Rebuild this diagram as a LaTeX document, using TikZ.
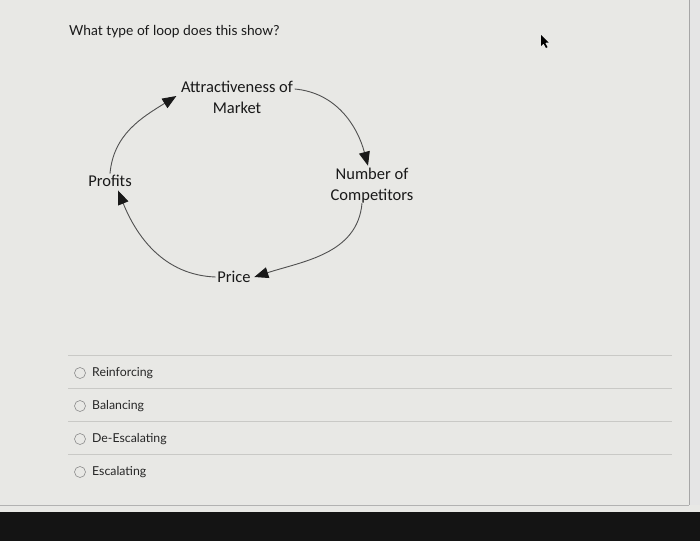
\documentclass[tikz,border=0pt]{standalone}
\usepackage{fontspec}
\setmainfont{Carlito}
\newfontfamily\uifont{Lato}
\usetikzlibrary{arrows.meta}
\definecolor{bg}{HTML}{E8E8E5}
\definecolor{sep}{HTML}{C9C9C6}
\definecolor{loopline}{HTML}{505050}
\tikzset{
  lbl/.style={font=\fontsize{16.5}{21}\selectfont, text=black!90, inner sep=1.5pt, align=center},
  loopedge/.style={draw=loopline, line width=0.9pt, -{Triangle[length=14pt,width=11pt,color=black!90]}},
  sepline/.style={draw=sep, line width=0.8pt},
  radio/.style={draw=black!45, line width=0.6pt, circle, minimum size=11pt, inner sep=0pt},
  opt/.style={font=\uifont\fontsize{12.3}{14}\selectfont, text=black!85, anchor=west, inner sep=0pt},
}
\begin{document}
\begin{tikzpicture}[x=1pt,y=1pt]
\useasboundingbox (0,0) rectangle (700,-541);
\fill[bg] (0,0) rectangle (700,-541);
% right panel edge
\draw[black!35, line width=0.8pt] (689,0) -- (689,-505);
\fill[black!10] (690,0) rectangle (700,-505);
% panel bottom and dark band
\draw[black!30, line width=0.8pt] (0,-505) -- (689,-505);
\fill[black!92] (0,-512) rectangle (700,-541);
% title
\node[font=\uifont\fontsize{13.8}{16}\selectfont, text=black!90, anchor=west, inner sep=0pt] (title) at (69,-32) {What type of loop does this show?};
% cursor
\fill[black] (541,-35) -- (541,-46) -- (543.5,-43.5) -- (546,-48) -- (547.5,-47.2) -- (545.2,-42.8) -- (548.5,-42.5) -- cycle;
% loop nodes
\node[lbl] (attr) at (237,-97) {Attractiveness of\\Market};
\node[lbl] (prof) at (110,-181) {Profits};
\node[lbl] (comp) at (372,-186) {Number of\\Competitors};
\node[lbl] (price) at (234,-277) {Price};
% connectors
\draw[loopedge] (prof.north) to[out=85,in=212] ([xshift=-3pt,yshift=1pt]attr.west);
\draw[loopedge] ([xshift=0pt,yshift=8pt]attr.east) to[out=-5,in=105] ([xshift=-4pt,yshift=1pt]comp.north);
\draw[loopedge] ([xshift=-10pt,yshift=2pt]comp.south) to[out=-95,in=18] ([xshift=2pt]price.east);
\draw[loopedge] (price.west) to[out=178,in=-68] ([xshift=8pt,yshift=-2pt]prof.south);
% separators and options
\foreach \y/\n in {355/s1,388/s2,421/s3,454/s4}{
  \coordinate (\n a) at (68,-\y);
  \coordinate (\n b) at (672,-\y);
  \draw[sepline] (\n a) -- (\n b);
}
\node[radio] (r1) at (80,-373) {};
\node[opt] (o1) at (92,-373) {Reinforcing};
\node[radio] (r2) at (80,-406) {};
\node[opt] (o2) at (92,-406) {Balancing};
\node[radio] (r3) at (80,-439) {};
\node[opt] (o3) at (92,-439) {De-Escalating};
\node[radio] (r4) at (80,-472) {};
\node[opt] (o4) at (92,-472) {Escalating};
\end{tikzpicture}
\end{document}
